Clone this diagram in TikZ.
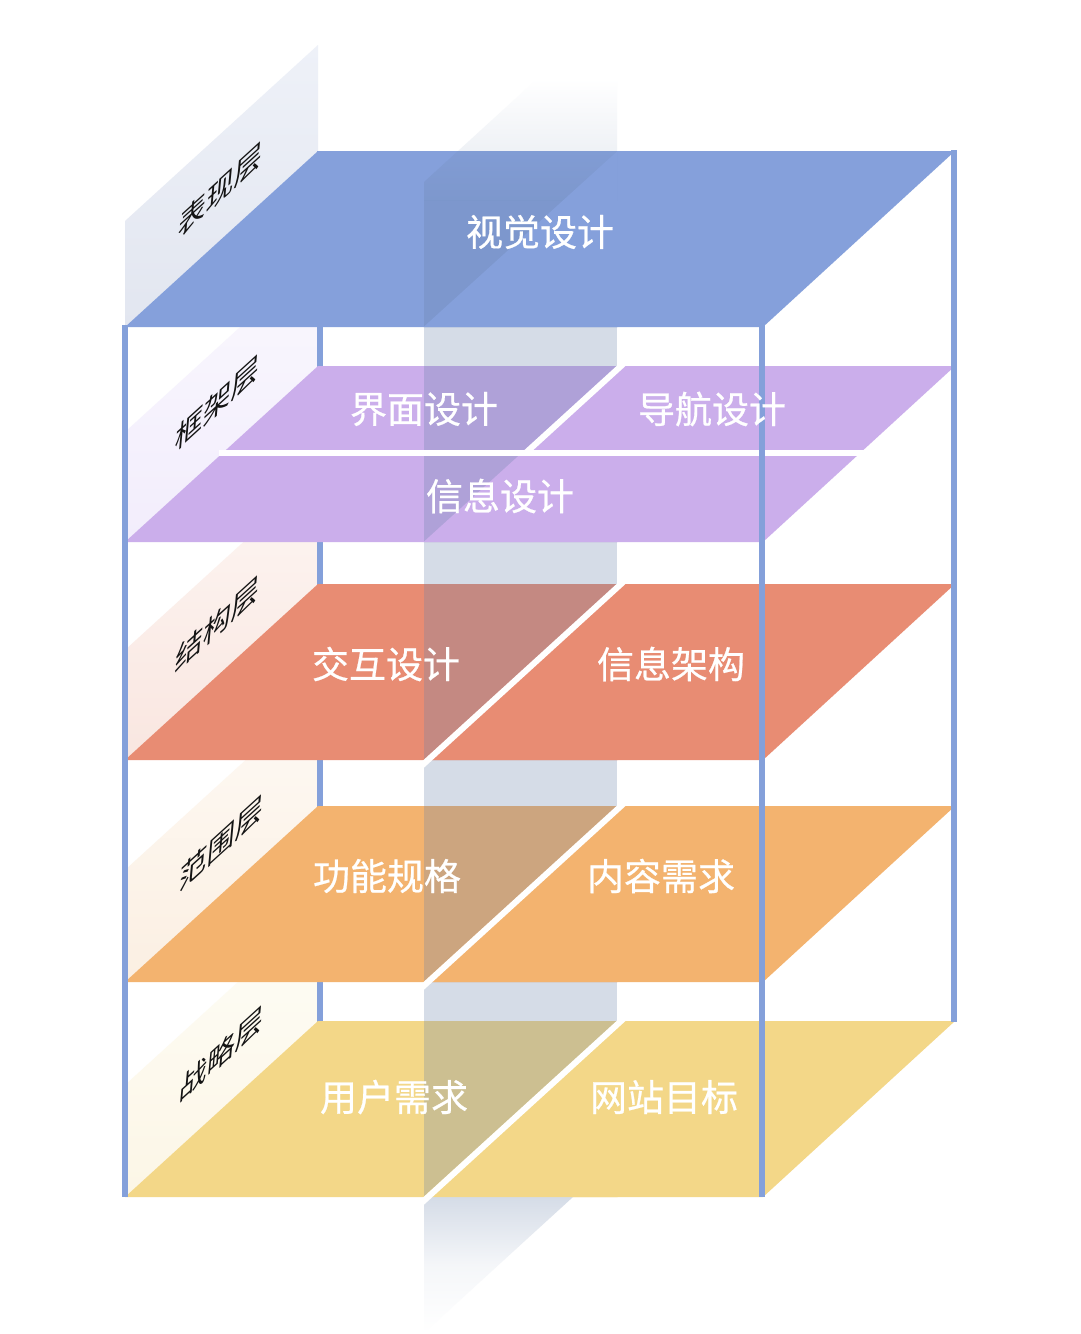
\documentclass[tikz,border=0pt]{standalone}
\usepackage{fontspec}
\newfontfamily\cjk{Noto Sans CJK SC}
\newfontfamily\cjkm[FakeBold=0.6]{Noto Sans CJK SC}
\definecolor{planeblue}{HTML}{85A0DB}
\definecolor{planepurple}{HTML}{CBAEEB}
\definecolor{planered}{HTML}{E88C73}
\definecolor{planeorange}{HTML}{F3B36F}
\definecolor{planeyellow}{HTML}{F3D788}
\definecolor{linecol}{HTML}{84A0DA}
\definecolor{wallc}{HTML}{6982A9}
\definecolor{panAt}{HTML}{EEF1F8}
\definecolor{panAb}{HTML}{E2E6F0}
\definecolor{panBt}{HTML}{FAF8FE}
\definecolor{panBb}{HTML}{F2EDFC}
\definecolor{panCt}{HTML}{FDF6F3}
\definecolor{panCb}{HTML}{F9E6E0}
\definecolor{panDt}{HTML}{FEFAF5}
\definecolor{panDb}{HTML}{FBEFE2}
\definecolor{panEt}{HTML}{FEFDF7}
\definecolor{panEb}{HTML}{FCF6E6}
\tikzset{
  edgeline/.style={draw=linecol, line width=5.5pt},
  gapline/.style={draw=white, line width=6pt},
  maintext/.style={text=white, font=\cjkm\fontsize{37}{40}\selectfont, inner sep=0pt},
  sidetext/.style={text=black!92, font=\cjk\fontsize{28}{30}\selectfont, inner sep=0pt, transform shape},
}
\begin{document}
\begin{tikzpicture}[x=1pt,y=-1pt]
\fill[white] (0,0) rectangle (1080,1334);
\useasboundingbox (0,0) rectangle (1080,1334);

% side label panels
\foreach \f/\h/\ca/\cb in {327/106/panAt/panAb, 542/110/panBt/panBb, 760/110/panCt/panCb, 982/112/panDt/panDb, 1197/112/panEt/panEb}{
  \shade[top color=\ca, bottom color=\cb] (125,\f-\h) -- (318,\f-\h-176) -- (318,\f-176) -- (125,\f) -- cycle;
}

% back-left edge (behind the layers)
\coordinate (BLt) at (320,151);
\coordinate (BLb) at (320,1022);
\draw[edgeline] (BLt) -- (BLb);

% layer planes
\foreach \f/\c in {327/planeblue, 542/planepurple, 760/planered, 982/planeorange, 1197/planeyellow}{
  \fill[\c] (125,\f) -- (763,\f) -- (955,\f-176) -- (318,\f-176) -- cycle;
}

% middle wall (translucent)
\shade[top color=white, bottom color=wallc!11!white, middle color=white] (458,151) -- (617,151) -- (617,6) -- cycle;
\shade[top color=wallc!14!planeblue, bottom color=wallc!28!planeblue] (424,182) -- (458,151) -- (617,151) -- (617,200) -- (424,200) -- cycle;
\fill[wallc, fill opacity=0.28] (424,200) rectangle (617,1197);
\shade[shading angle=35, top color=wallc!28!white, bottom color=white, middle color=wallc!7!white] (424,1197) -- (573,1197) -- (424,1333) -- cycle;

% parts of the layers that hide the wall
\foreach \f/\c in {327/planeblue, 542/planepurple, 760/planered, 982/planeorange, 1197/planeyellow}{
  \fill[\c] (617.5,\f-176) -- (617.5,\f) -- (423.5,\f) -- cycle;
}

% white gaps between tiles
\foreach \f in {760,982,1197}{
  \draw[gapline] (630.9,\f-185) -- (417,\f+10);
}
\draw[gapline] (630.9,357) -- (525.6,453);
\draw[gapline] (219,453) -- (868,453);

% remaining box edges
\coordinate (BRt) at (954,150);
\coordinate (BRb) at (954,1022);
\coordinate (FLt) at (125,325);
\coordinate (FLb) at (125,1197);
\coordinate (FRt) at (762,323);
\coordinate (FRb) at (762,1197);
\draw[edgeline] (BRt) -- (BRb);
\draw[edgeline] (FLt) -- (FLb);
\draw[edgeline] (FRt) -- (FRb);

% tile texts
\node[maintext] (t1) at (540,232) {视觉设计};
\node[maintext] (t2) at (424,409) {界面设计};
\node[maintext] (t3) at (712,409) {导航设计};
\node[maintext] (t4) at (500,496) {信息设计};
\node[maintext] (t5) at (386,664) {交互设计};
\node[maintext] (t6) at (671,664) {信息架构};
\node[maintext] (t7) at (387,876) {功能规格};
\node[maintext] (t8) at (661,876) {内容需求};
\node[maintext] (t9) at (394,1097) {用户需求};
\node[maintext] (t10) at (664,1097) {网站目标};

% side labels
\begin{scope}[shift={(221,190)}, yslant=0.91, xslant=0.1]
  \node[sidetext] (s1) {表现层};
\end{scope}
\begin{scope}[shift={(218,403)}, yslant=0.91, xslant=0.1]
  \node[sidetext] (s2) {框架层};
\end{scope}
\begin{scope}[shift={(218,624)}, yslant=0.91, xslant=0.1]
  \node[sidetext] (s3) {结构层};
\end{scope}
\begin{scope}[shift={(222,843)}, yslant=0.91, xslant=0.1]
  \node[sidetext] (s4) {范围层};
\end{scope}
\begin{scope}[shift={(222,1054)}, yslant=0.91, xslant=0.1]
  \node[sidetext] (s5) {战略层};
\end{scope}
\end{tikzpicture}
\end{document}
